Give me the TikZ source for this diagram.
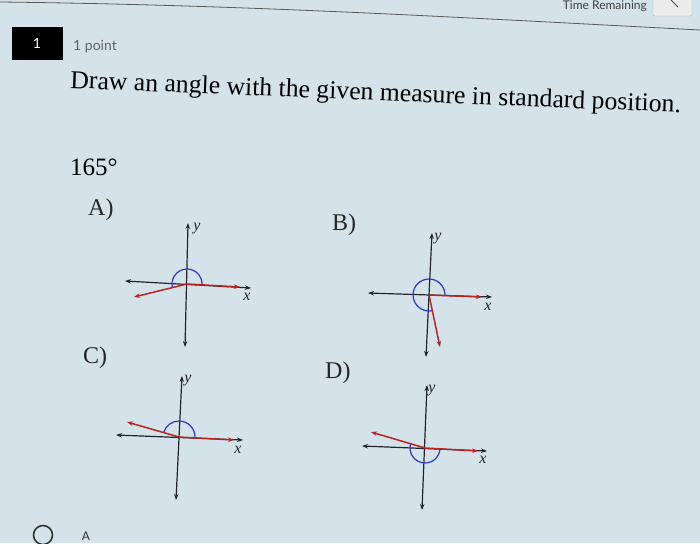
\documentclass[tikz,border=0pt]{standalone}
\usepackage{fontspec}
\setmainfont{Liberation Serif}
\newfontfamily\lato{Lato}
\usetikzlibrary{arrows.meta}
\definecolor{bg}{RGB}{212,227,234}
\definecolor{axis}{RGB}{35,35,45}
\definecolor{ray}{RGB}{185,35,35}
\definecolor{arcb}{RGB}{45,55,200}
\definecolor{grayt}{RGB}{95,100,105}
\tikzset{
  axisline/.style={draw=axis, line width=1.2pt, {Stealth[length=6pt,width=4.5pt]}-{Stealth[length=6pt,width=4.5pt]}},
  rayline/.style={draw=ray, line width=1.5pt, -{Stealth[length=6pt,width=4.5pt]}},
  anglearc/.style={draw=arcb, line width=1.2pt},
  axlabel/.style={font=\fontsize{16}{16}\selectfont\itshape, text=axis, inner sep=0pt},
  choice/.style={font=\fontsize{24}{24}\selectfont, text=black!85, inner sep=0pt, anchor=base west}
}
\begin{document}
\begin{tikzpicture}[x=1pt,y=-1pt]
\useasboundingbox (0,0) rectangle (700,543);
\fill[bg] (0,0) rectangle (700,543);
% top border
\draw[gray!70!black, line width=0.8pt] (0,2) .. controls (250,5) and (450,17) .. (700,30);
\node[font=\lato\fontsize{12}{12}\selectfont, text=black!75, anchor=north east, inner sep=0pt] (tr) at (647,0.5) {Time Remaining};
\draw[gray!60, fill=gray!15, rounded corners=2pt] (653,-3) rectangle (692,16);
\draw[black!70, line width=1pt] (670,-1) -- (678,7);
% header
\node[fill=black, minimum width=51pt, minimum height=33pt, inner sep=0pt] (qbox) at (37,43.5) {};
\node[font=\lato\fontsize{14}{14}\selectfont, text=white] (qnum) at (qbox) {1};
\node[font=\lato\fontsize{14}{14}\selectfont, text=grayt, anchor=west, inner sep=0pt] (pts) at (73,47) {1 point};
\node[font=\fontsize{25.7}{26}\selectfont, anchor=base west, inner sep=0pt, rotate=-2.3] (title) at (70,88) {Draw an angle with the given measure in standard position.};
\node[font=\fontsize{25}{25}\selectfont, anchor=base west, inner sep=0pt] (meas) at (70,175) {165°};
\node[choice] (la) at (88,215) {A)};
\node[choice] (lb) at (332,230) {B)};
\node[choice] (lc) at (83,363) {C)};
\node[choice] (ld) at (325,378) {D)};

% ---------- A ----------
\coordinate (Ao) at (187,284);
\coordinate (Ayt) at (188,223); \coordinate (Ayb) at (185,347);
\coordinate (Axl) at (125,281); \coordinate (Axr) at (251,288);
\coordinate (Ari) at (240,287); \coordinate (Art) at (134,297);
\draw[axisline] (Ayb) -- (Ayt);
\draw[axisline] (Axl) -- (Axr);
\draw[anglearc] ([shift={(0:15pt)}]Ao) arc[start angle=0, end angle=194, radius=15pt];
\draw[rayline] (Ao) -- (Ari);
\draw[rayline] (Ao) -- (Art);
\node[axlabel] (Aylab) at (197,229) {y};
\node[axlabel] (Axlab) at (247,297) {x};

% ---------- B ----------
\coordinate (Bo) at (429,295);
\coordinate (Byt) at (432,233); \coordinate (Byb) at (426,357);
\coordinate (Bxl) at (368,293); \coordinate (Bxr) at (492,297);
\coordinate (Bri) at (482,297); \coordinate (Brt) at (440,347);
\draw[axisline] (Byb) -- (Byt);
\draw[axisline] (Bxl) -- (Bxr);
\draw[anglearc] ([shift={(0:16pt)}]Bo) arc[start angle=0, end angle=282, radius=16pt];
\draw[rayline] (Bo) -- (Bri);
\draw[rayline] (Bo) -- (Brt);
\node[axlabel] (Bylab) at (438,239) {y};
\node[axlabel] (Bxlab) at (488,307) {x};

% ---------- C ----------
\coordinate (Co) at (179,437);
\coordinate (Cyt) at (182,376); \coordinate (Cyb) at (176,500);
\coordinate (Cxl) at (116,435); \coordinate (Cxr) at (243,440);
\coordinate (Cri) at (234,440); \coordinate (Crt) at (127,422);
\draw[axisline] (Cyb) -- (Cyt);
\draw[axisline] (Cxl) -- (Cxr);
\draw[anglearc] ([shift={(0:16pt)}]Co) arc[start angle=0, end angle=164, radius=16pt];
\draw[rayline] (Co) -- (Cri);
\draw[rayline] (Co) -- (Crt);
\node[axlabel] (Cylab) at (188,381) {y};
\node[axlabel] (Cxlab) at (238,450) {x};

% ---------- D ----------
\coordinate (Do) at (425,448);
\coordinate (Dyt) at (427,385); \coordinate (Dyb) at (422,510);
\coordinate (Dxl) at (362,446); \coordinate (Dxr) at (487,451);
\coordinate (Dri) at (478,451); \coordinate (Drt) at (371,432);
\draw[axisline] (Dyb) -- (Dyt);
\draw[axisline] (Dxl) -- (Dxr);
\draw[anglearc] ([shift={(0:15pt)}]Do) arc[start angle=0, end angle=-197, radius=15pt];
\draw[rayline] (Do) -- (Dri);
\draw[rayline] (Do) -- (Drt);
\node[axlabel] (Dylab) at (432,391) {y};
\node[axlabel] (Dxlab) at (483,460) {x};

% bottom option
\node[draw=black!80, line width=1.6pt, circle, minimum size=19pt, inner sep=0pt] (radio) at (43,535) {};
\node[font=\lato\fontsize{12}{12}\selectfont, text=black!80, anchor=base, inner sep=0pt] (optA) at (86,540) {A};
\end{tikzpicture}
\end{document}
